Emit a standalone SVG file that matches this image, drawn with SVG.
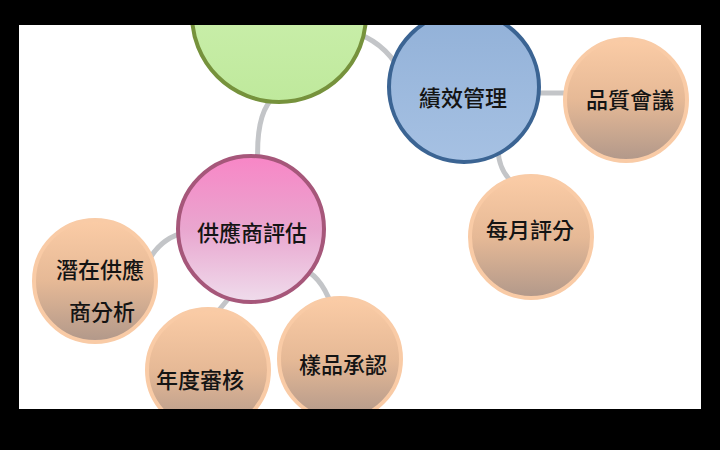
<svg xmlns="http://www.w3.org/2000/svg" width="720" height="450" viewBox="0 0 720 450">
<defs>
<style>
.lbl{font-family:"Noto Sans CJK TC","Noto Sans CJK SC",sans-serif;font-size:22px;font-weight:500;fill:#141414;text-anchor:middle;dominant-baseline:central;}
.link{fill:none;stroke:#c3c5c8;stroke-width:5;stroke-linecap:round;}
.tan{fill:url(#gTan);stroke:#f9cba6;stroke-width:4;}
</style>
<linearGradient id="gGreen" x1="0" y1="0" x2="0" y2="1"><stop offset="0" stop-color="#d2f3b6"/><stop offset="1" stop-color="#bfe99c"/></linearGradient>
<linearGradient id="gBlue" x1="0" y1="0" x2="0" y2="1"><stop offset="0" stop-color="#92b1d8"/><stop offset="1" stop-color="#a6c1e3"/></linearGradient>
<linearGradient id="gPink" x1="0" y1="0" x2="0" y2="1"><stop offset="0" stop-color="#f886c6"/><stop offset="0.5" stop-color="#e9a6cf"/><stop offset="1" stop-color="#efdcec"/></linearGradient>
<linearGradient id="gTan" x1="0" y1="0" x2="0" y2="1"><stop offset="0" stop-color="#fbcca6"/><stop offset="0.5" stop-color="#e6b996"/><stop offset="1" stop-color="#b1988a"/></linearGradient>
<clipPath id="page"><rect x="19" y="25" width="682" height="384"/></clipPath>
</defs>
<rect x="0" y="0" width="720" height="450" fill="#000"/>
<rect x="19" y="25" width="682" height="384" fill="#fff"/>
<g clip-path="url(#page)">
<g id="connectors">
<path class="link" d="M352 32 Q382 40 400 70"/>
<path class="link" d="M275 96 Q255 112 258 166"/>
<path class="link" d="M535 93 L570 93"/>
<path class="link" d="M498 150 Q499 170 512 182"/>
<path class="link" d="M186 232 Q160 238 148 262"/>
<path class="link" d="M234 292 L214 316"/>
<path class="link" d="M300 268 Q320 274 331 304"/>
</g>
<g id="node-root"><circle cx="279" cy="15" r="87" fill="url(#gGreen)" stroke="#76923c" stroke-width="4"/></g>
<g id="node-perf"><circle cx="464" cy="87" r="75" fill="url(#gBlue)" stroke="#3b6493" stroke-width="4"/><text class="lbl" x="463" y="96">績效管理</text></g>
<g id="node-quality"><circle class="tan" cx="626" cy="100" r="61"/><text class="lbl" x="630" y="98">品質會議</text></g>
<g id="node-monthly"><circle class="tan" cx="531" cy="237" r="61"/><text class="lbl" x="530" y="228">每月評分</text></g>
<g id="node-eval"><circle cx="251" cy="229" r="73" fill="url(#gPink)" stroke="#a6577a" stroke-width="4"/><text class="lbl" x="252" y="231">供應商評估</text></g>
<g id="node-potential"><circle class="tan" cx="95" cy="281" r="61"/><text class="lbl" x="100" y="268">潛在供應</text><text class="lbl" x="102" y="310">商分析</text></g>
<g id="node-annual"><circle class="tan" cx="208" cy="370" r="61"/><text class="lbl" x="200" y="378">年度審核</text></g>
<g id="node-sample"><circle class="tan" cx="340" cy="359" r="61"/><text class="lbl" x="343" y="363">樣品承認</text></g>
</g>
</svg>
